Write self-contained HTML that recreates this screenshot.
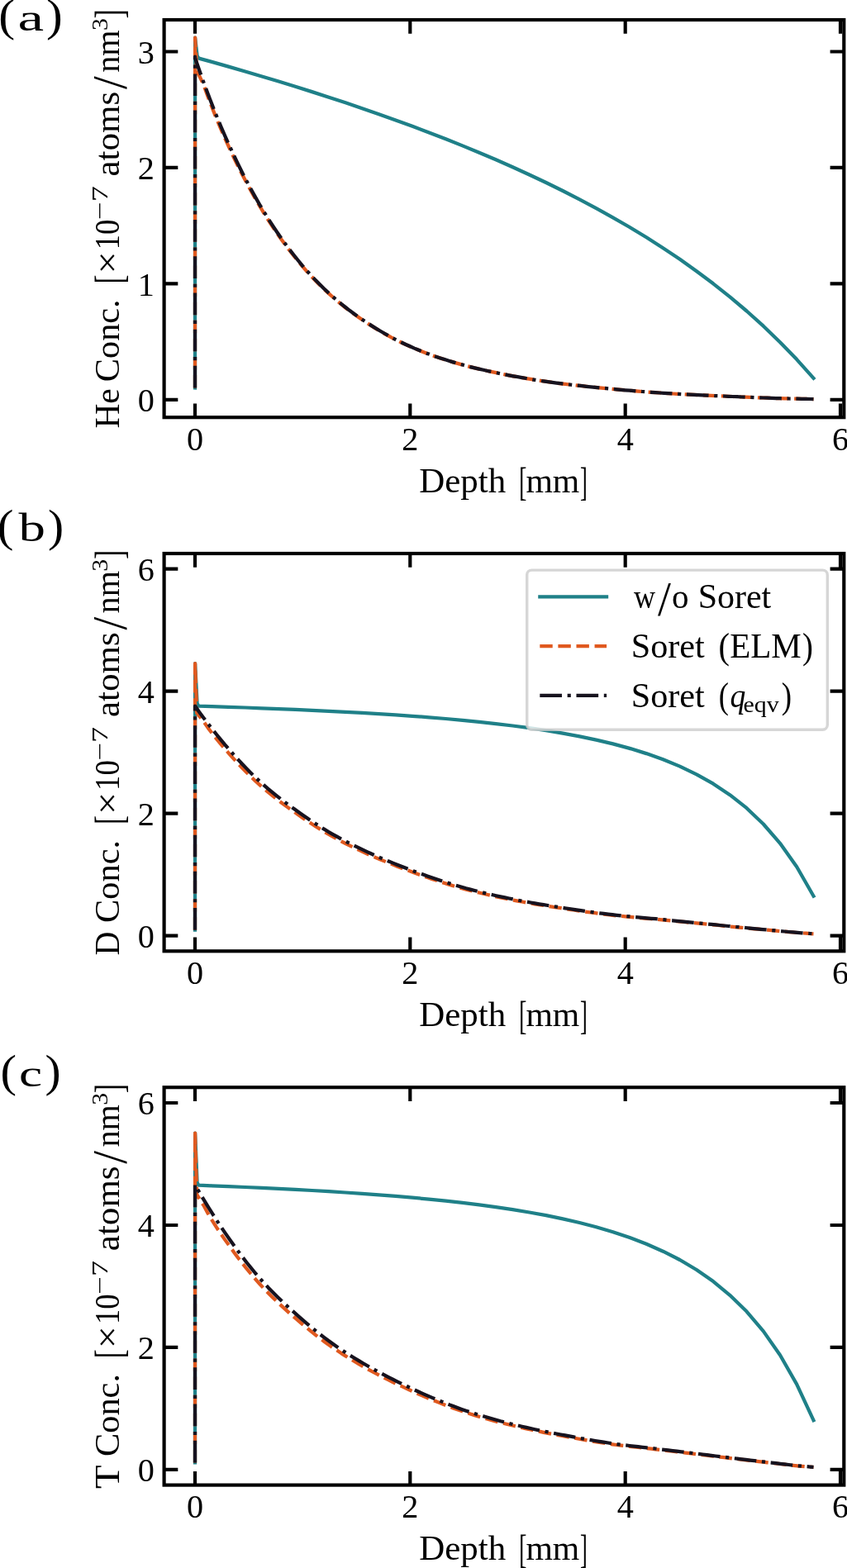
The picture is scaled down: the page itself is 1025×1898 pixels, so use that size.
<!DOCTYPE html>
<html lang="en">
<head>
<meta charset="utf-8">
<title>Concentration profiles</title>
<style>
html,body{margin:0;padding:0;background:#fff;}
svg{display:block;}
</style>
</head>
<body>
<svg width="1025" height="1898" viewBox="0 0 1025 1898" font-family='"Liberation Serif", "DejaVu Serif", serif' fill="#000">
<rect width="1025" height="1898" fill="#fff"/>
<g id="panel-a">
<g fill="none" stroke-width="4.25" stroke-linejoin="round">
<polyline points="236.0,469.5 236.1,45.7 238.6,67.6 240.7,70.6 256.3,74.9 276.5,80.6 296.7,86.5 316.9,92.5 337.2,98.5 357.4,104.8 377.6,111.1 397.9,117.7 418.1,124.3 438.3,131.2 458.5,138.2 478.8,145.4 499.0,152.8 519.2,160.4 539.5,168.3 559.7,176.4 579.9,184.7 600.1,193.3 620.4,202.2 640.6,211.5 660.8,221.0 681.1,231.0 701.3,241.3 721.5,252.1 741.7,263.3 762.0,275.0 782.2,287.3 802.4,300.3 822.7,313.8 842.9,328.2 863.1,343.3 883.3,359.4 903.6,376.5 923.8,394.7 944.0,414.2 964.2,435.1 984.5,457.8" stroke="#1f8088" stroke-linecap="square"/>
<polyline points="236.0,469.5 236.1,45.7 238.2,85.3 246.4,102.8 251.6,117.1 256.8,130.6 262.0,143.6 267.2,156.0 272.4,167.9 277.7,179.4 282.9,190.5 288.1,201.2 293.3,211.5 298.5,221.4 303.7,231.0 308.9,240.3 314.1,249.2 319.3,257.8 324.5,266.1 329.7,274.1 334.9,281.8 340.1,289.3 345.3,296.4 350.5,303.3 355.8,310.0 361.0,316.4 366.2,322.6 371.4,328.6 376.6,334.3 381.8,339.7 387.0,345.0 392.2,350.0 397.4,354.9 402.6,359.5 407.8,364.0 413.0,368.3 418.2,372.5 423.4,376.5 428.7,380.3 433.9,384.0 439.1,387.6 444.3,391.0 449.5,394.4 454.7,397.6 459.9,400.8 465.1,403.8 470.3,406.7 475.5,409.5 480.7,412.1 485.9,414.7 491.1,417.1 496.3,419.5 501.5,421.7 506.8,423.9 512.0,426.0 517.2,428.0 522.4,429.9 527.6,431.8 532.8,433.5 538.0,435.2 543.2,436.9 548.4,438.4 553.6,439.9 558.8,441.4 564.0,442.8 569.2,444.1 574.4,445.4 579.6,446.6 584.9,447.8 590.1,449.0 595.3,450.1 600.5,451.2 605.7,452.3 610.9,453.3 616.1,454.3 621.3,455.3 626.5,456.2 631.7,457.2 636.9,458.1 642.1,458.9 647.3,459.8 652.5,460.6 657.8,461.4 663.0,462.1 668.2,462.9 673.4,463.6 678.6,464.3 683.8,464.9 689.0,465.5 694.2,466.1 699.4,466.7 704.6,467.2 709.8,467.8 715.0,468.3 720.2,468.8 725.4,469.3 730.6,469.8 735.9,470.3 741.1,470.8 746.3,471.3 751.5,471.8 756.7,472.3 761.9,472.7 767.1,473.1 772.3,473.6 777.5,474.0 782.7,474.4 787.9,474.8 793.1,475.1 798.3,475.5 803.5,475.9 808.7,476.2 814.0,476.5 819.2,476.8 824.4,477.1 829.6,477.3 834.8,477.6 840.0,477.9 845.2,478.1 850.4,478.4 855.6,478.6 860.8,478.8 866.0,479.1 871.2,479.3 876.4,479.5 881.6,479.8 886.8,480.0 892.1,480.2 897.3,480.5 902.5,480.7 907.7,480.9 912.9,481.1 918.1,481.3 923.3,481.5 928.5,481.7 933.7,481.9 938.9,482.1 944.1,482.2 949.3,482.4 954.5,482.5 959.7,482.6 965.0,482.7 970.2,482.8 975.4,482.9 980.6,483.0 984.5,483.1" stroke="#e0591f" stroke-dasharray="15.42,6.67"/>
<polyline points="236.0,469.5 236.0,68.5 236.0,70.0 241.2,85.0 246.4,99.6 251.6,113.6 256.8,127.1 262.0,140.2 267.2,152.8 272.4,164.9 277.7,176.6 282.9,187.9 288.1,198.7 293.3,209.2 298.5,219.3 303.7,229.0 308.9,238.4 314.1,247.5 319.3,256.2 324.5,264.6 329.7,272.7 334.9,280.5 340.1,288.0 345.3,295.3 350.5,302.3 355.8,309.0 361.0,315.5 366.2,321.8 371.4,327.8 376.6,333.5 381.8,339.1 387.0,344.3 392.2,349.4 397.4,354.3 402.6,359.0 407.8,363.5 413.0,367.9 418.2,372.0 423.4,376.1 428.7,379.9 433.9,383.7 439.1,387.3 444.3,390.7 449.5,394.1 454.7,397.4 459.9,400.5 465.1,403.5 470.3,406.5 475.5,409.3 480.7,412.0 485.9,414.5 491.1,417.0 496.3,419.3 501.5,421.6 506.8,423.8 512.0,425.9 517.2,427.9 522.4,429.8 527.6,431.7 532.8,433.4 538.0,435.1 543.2,436.8 548.4,438.4 553.6,439.9 558.8,441.3 564.0,442.7 569.2,444.1 574.4,445.4 579.6,446.6 584.9,447.8 590.1,449.0 595.3,450.1 600.5,451.2 605.7,452.2 610.9,453.3 616.1,454.3 621.3,455.3 626.5,456.2 631.7,457.1 636.9,458.0 642.1,458.9 647.3,459.8 652.5,460.6 657.8,461.4 663.0,462.1 668.2,462.9 673.4,463.6 678.6,464.2 683.8,464.9 689.0,465.5 694.2,466.1 699.4,466.7 704.6,467.2 709.8,467.8 715.0,468.3 720.2,468.8 725.4,469.3 730.6,469.8 735.9,470.3 741.1,470.8 746.3,471.3 751.5,471.8 756.7,472.3 761.9,472.7 767.1,473.1 772.3,473.6 777.5,474.0 782.7,474.4 787.9,474.8 793.1,475.1 798.3,475.5 803.5,475.9 808.7,476.2 814.0,476.5 819.2,476.8 824.4,477.1 829.6,477.3 834.8,477.6 840.0,477.9 845.2,478.1 850.4,478.3 855.6,478.6 860.8,478.8 866.0,479.1 871.2,479.3 876.4,479.5 881.6,479.8 886.8,480.0 892.1,480.2 897.3,480.5 902.5,480.7 907.7,480.9 912.9,481.1 918.1,481.3 923.3,481.5 928.5,481.7 933.7,481.9 938.9,482.1 944.1,482.2 949.3,482.4 954.5,482.5 959.7,482.6 965.0,482.7 970.2,482.8 975.4,482.9 980.6,483.0 984.5,483.1" stroke="#17131f" stroke-dasharray="26.67,6.67,4.17,6.67"/>
</g>
<path d="M236.0,505.2v-16.7M236.0,24.0v16.7M496.3,505.2v-16.7M496.3,24.0v16.7M756.7,505.2v-16.7M756.7,24.0v16.7M1017.0,505.2v-16.7M1017.0,24.0v16.7M198.6,483.8h16.7M1021.3,483.8h-16.7M198.6,343.4h16.7M1021.3,343.4h-16.7M198.6,202.9h16.7M1021.3,202.9h-16.7M198.6,62.5h16.7M1021.3,62.5h-16.7" stroke="#000" stroke-width="4.17" fill="none"/>
<rect x="198.6" y="24.0" width="822.7" height="481.2" fill="none" stroke="#000" stroke-width="4.17"/>
<text x="236.0" y="545.0" font-size="40.2" text-anchor="middle">0</text>
<text x="496.3" y="545.0" font-size="40.2" text-anchor="middle">2</text>
<text x="756.7" y="545.0" font-size="40.2" text-anchor="middle">4</text>
<text x="1017.0" y="545.0" font-size="40.2" text-anchor="middle">6</text>
<text x="186.8" y="498.1" font-size="40.2" text-anchor="end">0</text>
<text x="186.8" y="357.7" font-size="40.2" text-anchor="end">1</text>
<text x="186.8" y="217.2" font-size="40.2" text-anchor="end">2</text>
<text x="186.8" y="76.8" font-size="40.2" text-anchor="end">3</text>
</g>
<g id="panel-b">
<g fill="none" stroke-width="4.25" stroke-linejoin="round">
<polyline points="236.0,1125.7 236.1,803.0 238.6,851.7 240.4,854.7 256.3,855.2 276.5,855.9 296.7,856.5 316.9,857.3 337.2,858.1 357.4,858.9 377.6,859.8 397.9,860.8 418.1,861.8 438.3,862.9 458.5,864.1 478.8,865.4 499.0,866.8 519.2,868.3 539.5,870.0 559.7,871.8 579.9,873.8 600.1,876.1 620.4,878.5 640.6,881.2 660.8,884.2 681.1,887.6 701.3,891.3 721.5,895.6 741.7,900.4 762.0,905.9 782.2,912.1 802.4,919.3 822.7,927.6 842.9,937.4 863.1,948.7 883.3,962.2 903.6,978.2 923.8,997.5 944.0,1020.8 964.2,1049.3 984.5,1084.6" stroke="#1f8088" stroke-linecap="square"/>
<polyline points="236.0,1125.7 236.1,803.0 238.2,862.9 246.4,873.4 251.6,880.9 256.8,887.8 262.0,894.4 267.2,900.7 272.4,906.8 277.7,912.8 282.9,918.6 288.1,924.3 293.3,929.8 298.5,935.1 303.7,940.2 308.9,945.2 314.1,949.9 319.3,954.5 324.5,958.9 329.7,963.1 334.9,967.2 340.1,971.2 345.3,975.1 350.5,978.9 355.8,982.6 361.0,986.3 366.2,989.9 371.4,993.4 376.6,996.8 381.8,1000.2 387.0,1003.4 392.2,1006.6 397.4,1009.7 402.6,1012.6 407.8,1015.5 413.0,1018.3 418.2,1021.0 423.4,1023.6 428.7,1026.2 433.9,1028.7 439.1,1031.1 444.3,1033.5 449.5,1035.8 454.7,1038.1 459.9,1040.3 465.1,1042.4 470.3,1044.6 475.5,1046.6 480.7,1048.7 485.9,1050.7 491.1,1052.7 496.3,1054.6 501.5,1056.6 506.8,1058.5 512.0,1060.3 517.2,1062.1 522.4,1063.9 527.6,1065.6 532.8,1067.3 538.0,1069.0 543.2,1070.6 548.4,1072.2 553.6,1073.7 558.8,1075.2 564.0,1076.6 569.2,1077.9 574.4,1079.3 579.6,1080.5 584.9,1081.8 590.1,1083.0 595.3,1084.2 600.5,1085.3 605.7,1086.4 610.9,1087.5 616.1,1088.5 621.3,1089.6 626.5,1090.6 631.7,1091.5 636.9,1092.5 642.1,1093.4 647.3,1094.3 652.5,1095.2 657.8,1096.0 663.0,1096.9 668.2,1097.7 673.4,1098.5 678.6,1099.2 683.8,1100.0 689.0,1100.8 694.2,1101.5 699.4,1102.3 704.6,1103.0 709.8,1103.8 715.0,1104.5 720.2,1105.2 725.4,1105.9 730.6,1106.6 735.9,1107.2 741.1,1107.8 746.3,1108.4 751.5,1108.9 756.7,1109.4 761.9,1109.9 767.1,1110.4 772.3,1110.9 777.5,1111.3 782.7,1111.8 787.9,1112.2 793.1,1112.7 798.3,1113.2 803.5,1113.7 808.7,1114.2 814.0,1114.7 819.2,1115.2 824.4,1115.7 829.6,1116.2 834.8,1116.7 840.0,1117.2 845.2,1117.7 850.4,1118.2 855.6,1118.7 860.8,1119.2 866.0,1119.7 871.2,1120.2 876.4,1120.8 881.6,1121.3 886.8,1121.8 892.1,1122.3 897.3,1122.8 902.5,1123.3 907.7,1123.8 912.9,1124.3 918.1,1124.7 923.3,1125.2 928.5,1125.7 933.7,1126.2 938.9,1126.6 944.1,1127.1 949.3,1127.6 954.5,1128.1 959.7,1128.5 965.0,1129.0 970.2,1129.4 975.4,1129.7 980.6,1130.1 984.5,1130.3" stroke="#e0591f" stroke-dasharray="15.42,6.67"/>
<polyline points="236.0,1125.7 236.0,854.6 241.2,861.9 246.4,868.9 251.6,875.8 256.8,882.5 262.0,889.0 267.2,895.4 272.4,901.6 277.7,907.6 282.9,913.6 288.1,919.4 293.3,925.0 298.5,930.4 303.7,935.7 308.9,940.8 314.1,945.6 319.3,950.3 324.5,954.8 329.7,959.1 334.9,963.3 340.1,967.4 345.3,971.4 350.5,975.3 355.8,979.1 361.0,982.8 366.2,986.5 371.4,990.1 376.6,993.6 381.8,997.0 387.0,1000.4 392.2,1003.6 397.4,1006.8 402.6,1009.8 407.8,1012.7 413.0,1015.6 418.2,1018.3 423.4,1021.0 428.7,1023.6 433.9,1026.2 439.1,1028.7 444.3,1031.1 449.5,1033.5 454.7,1035.9 459.9,1038.1 465.1,1040.3 470.3,1042.5 475.5,1044.6 480.7,1046.7 485.9,1048.7 491.1,1050.8 496.3,1052.8 501.5,1054.8 506.8,1056.7 512.0,1058.6 517.2,1060.5 522.4,1062.3 527.6,1064.0 532.8,1065.8 538.0,1067.5 543.2,1069.1 548.4,1070.7 553.6,1072.3 558.8,1073.8 564.0,1075.3 569.2,1076.6 574.4,1078.0 579.6,1079.3 584.9,1080.6 590.1,1081.8 595.3,1083.0 600.5,1084.2 605.7,1085.3 610.9,1086.4 616.1,1087.5 621.3,1088.5 626.5,1089.6 631.7,1090.6 636.9,1091.5 642.1,1092.5 647.3,1093.4 652.5,1094.3 657.8,1095.2 663.0,1096.0 668.2,1096.8 673.4,1097.7 678.6,1098.5 683.8,1099.3 689.0,1100.0 694.2,1100.8 699.4,1101.6 704.6,1102.3 709.8,1103.1 715.0,1103.8 720.2,1104.6 725.4,1105.3 730.6,1105.9 735.9,1106.6 741.1,1107.2 746.3,1107.8 751.5,1108.3 756.7,1108.9 761.9,1109.4 767.1,1109.9 772.3,1110.3 777.5,1110.8 782.7,1111.3 787.9,1111.8 793.1,1112.2 798.3,1112.7 803.5,1113.2 808.7,1113.8 814.0,1114.3 819.2,1114.8 824.4,1115.3 829.6,1115.8 834.8,1116.3 840.0,1116.8 845.2,1117.4 850.4,1117.9 855.6,1118.4 860.8,1118.9 866.0,1119.4 871.2,1120.0 876.4,1120.5 881.6,1121.0 886.8,1121.5 892.1,1122.0 897.3,1122.5 902.5,1123.0 907.7,1123.6 912.9,1124.1 918.1,1124.6 923.3,1125.1 928.5,1125.5 933.7,1126.0 938.9,1126.5 944.1,1127.0 949.3,1127.5 954.5,1128.0 959.7,1128.4 965.0,1128.9 970.2,1129.3 975.4,1129.7 980.6,1130.0 984.5,1130.3" stroke="#17131f" stroke-dasharray="26.67,6.67,4.17,6.67"/>
</g>
<path d="M236.0,1151.3v-16.7M236.0,670.0v16.7M496.3,1151.3v-16.7M496.3,670.0v16.7M756.7,1151.3v-16.7M756.7,670.0v16.7M1017.0,1151.3v-16.7M1017.0,670.0v16.7M198.6,1132.7h16.7M1021.3,1132.7h-16.7M198.6,984.7h16.7M1021.3,984.7h-16.7M198.6,836.7h16.7M1021.3,836.7h-16.7M198.6,688.7h16.7M1021.3,688.7h-16.7" stroke="#000" stroke-width="4.17" fill="none"/>
<rect x="198.6" y="670.0" width="822.7" height="481.3" fill="none" stroke="#000" stroke-width="4.17"/>
<text x="236.0" y="1191.1" font-size="40.2" text-anchor="middle">0</text>
<text x="496.3" y="1191.1" font-size="40.2" text-anchor="middle">2</text>
<text x="756.7" y="1191.1" font-size="40.2" text-anchor="middle">4</text>
<text x="1017.0" y="1191.1" font-size="40.2" text-anchor="middle">6</text>
<text x="186.8" y="1147.0" font-size="40.2" text-anchor="end">0</text>
<text x="186.8" y="999.0" font-size="40.2" text-anchor="end">2</text>
<text x="186.8" y="851.0" font-size="40.2" text-anchor="end">4</text>
<text x="186.8" y="703.0" font-size="40.2" text-anchor="end">6</text>
</g>
<g id="panel-c">
<g fill="none" stroke-width="4.25" stroke-linejoin="round">
<polyline points="236.0,1770.4 236.1,1371.6 238.6,1431.7 240.4,1434.7 256.3,1435.3 276.5,1436.1 296.7,1437.0 316.9,1437.9 337.2,1438.9 357.4,1439.9 377.6,1441.0 397.9,1442.2 418.1,1443.5 438.3,1444.8 458.5,1446.3 478.8,1447.9 499.0,1449.7 519.2,1451.6 539.5,1453.6 559.7,1455.9 579.9,1458.4 600.1,1461.1 620.4,1464.1 640.6,1467.5 660.8,1471.2 681.1,1475.4 701.3,1480.0 721.5,1485.3 741.7,1491.2 762.0,1498.0 782.2,1505.8 802.4,1514.7 822.7,1525.0 842.9,1537.0 863.1,1551.1 883.3,1567.8 903.6,1587.6 923.8,1611.4 944.0,1640.3 964.2,1675.6 984.5,1719.3" stroke="#1f8088" stroke-linecap="square"/>
<polyline points="236.0,1770.4 236.1,1371.6 238.2,1446.0 246.4,1459.1 251.6,1468.7 256.8,1477.4 262.0,1485.6 267.2,1493.4 272.4,1500.9 277.7,1508.2 282.9,1515.4 288.1,1522.4 293.3,1529.1 298.5,1535.7 303.7,1542.0 308.9,1548.1 314.1,1554.0 319.3,1559.6 324.5,1565.0 329.7,1570.2 334.9,1575.2 340.1,1580.1 345.3,1584.9 350.5,1589.6 355.8,1594.2 361.0,1598.7 366.2,1603.1 371.4,1607.4 376.6,1611.7 381.8,1615.8 387.0,1619.8 392.2,1623.7 397.4,1627.5 402.6,1631.1 407.8,1634.6 413.0,1638.1 418.2,1641.4 423.4,1644.6 428.7,1647.8 433.9,1650.8 439.1,1653.8 444.3,1656.8 449.5,1659.7 454.7,1662.4 459.9,1665.2 465.1,1667.8 470.3,1670.4 475.5,1673.0 480.7,1675.5 485.9,1677.9 491.1,1680.4 496.3,1682.8 501.5,1685.2 506.8,1687.5 512.0,1689.8 517.2,1692.0 522.4,1694.2 527.6,1696.3 532.8,1698.4 538.0,1700.5 543.2,1702.5 548.4,1704.4 553.6,1706.3 558.8,1708.1 564.0,1709.8 569.2,1711.5 574.4,1713.1 579.6,1714.7 584.9,1716.2 590.1,1717.7 595.3,1719.2 600.5,1720.6 605.7,1721.9 610.9,1723.2 616.1,1724.5 621.3,1725.8 626.5,1727.0 631.7,1728.2 636.9,1729.4 642.1,1730.5 647.3,1731.6 652.5,1732.7 657.8,1733.8 663.0,1734.8 668.2,1735.8 673.4,1736.8 678.6,1737.7 683.8,1738.7 689.0,1739.6 694.2,1740.5 699.4,1741.5 704.6,1742.4 709.8,1743.3 715.0,1744.2 720.2,1745.1 725.4,1745.9 730.6,1746.7 735.9,1747.5 741.1,1748.3 746.3,1749.0 751.5,1749.6 756.7,1750.2 761.9,1750.9 767.1,1751.4 772.3,1752.0 777.5,1752.6 782.7,1753.2 787.9,1753.7 793.1,1754.3 798.3,1754.9 803.5,1755.5 808.7,1756.1 814.0,1756.7 819.2,1757.4 824.4,1758.0 829.6,1758.6 834.8,1759.2 840.0,1759.8 845.2,1760.4 850.4,1761.1 855.6,1761.7 860.8,1762.3 866.0,1762.9 871.2,1763.6 876.4,1764.2 881.6,1764.8 886.8,1765.4 892.1,1766.1 897.3,1766.7 902.5,1767.3 907.7,1767.9 912.9,1768.5 918.1,1769.1 923.3,1769.7 928.5,1770.3 933.7,1770.9 938.9,1771.4 944.1,1772.0 949.3,1772.6 954.5,1773.2 959.7,1773.8 965.0,1774.3 970.2,1774.8 975.4,1775.3 980.6,1775.7 984.5,1776.0" stroke="#e0591f" stroke-dasharray="15.42,6.67"/>
<polyline points="236.0,1770.4 236.0,1434.2 241.2,1443.1 246.4,1451.9 251.6,1460.4 256.8,1468.7 262.0,1476.8 267.2,1484.7 272.4,1492.4 277.7,1499.9 282.9,1507.3 288.1,1514.4 293.3,1521.4 298.5,1528.2 303.7,1534.7 308.9,1541.0 314.1,1547.0 319.3,1552.8 324.5,1558.4 329.7,1563.7 334.9,1568.9 340.1,1574.0 345.3,1578.9 350.5,1583.7 355.8,1588.4 361.0,1593.1 366.2,1597.7 371.4,1602.1 376.6,1606.5 381.8,1610.7 387.0,1614.9 392.2,1618.9 397.4,1622.8 402.6,1626.5 407.8,1630.2 413.0,1633.7 418.2,1637.1 423.4,1640.5 428.7,1643.7 433.9,1646.9 439.1,1650.0 444.3,1653.0 449.5,1656.0 454.7,1658.8 459.9,1661.6 465.1,1664.4 470.3,1667.1 475.5,1669.7 480.7,1672.3 485.9,1674.8 491.1,1677.3 496.3,1679.8 501.5,1682.3 506.8,1684.7 512.0,1687.1 517.2,1689.4 522.4,1691.6 527.6,1693.8 532.8,1695.9 538.0,1698.0 543.2,1700.1 548.4,1702.1 553.6,1704.0 558.8,1705.9 564.0,1707.7 569.2,1709.4 574.4,1711.1 579.6,1712.7 584.9,1714.3 590.1,1715.8 595.3,1717.3 600.5,1718.7 605.7,1720.2 610.9,1721.5 616.1,1722.9 621.3,1724.2 626.5,1725.4 631.7,1726.7 636.9,1727.9 642.1,1729.0 647.3,1730.2 652.5,1731.3 657.8,1732.4 663.0,1733.4 668.2,1734.4 673.4,1735.5 678.6,1736.5 683.8,1737.4 689.0,1738.4 694.2,1739.4 699.4,1740.3 704.6,1741.3 709.8,1742.2 715.0,1743.1 720.2,1744.0 725.4,1744.9 730.6,1745.7 735.9,1746.5 741.1,1747.3 746.3,1748.0 751.5,1748.7 756.7,1749.4 761.9,1750.0 767.1,1750.6 772.3,1751.2 777.5,1751.8 782.7,1752.4 787.9,1753.0 793.1,1753.5 798.3,1754.2 803.5,1754.8 808.7,1755.4 814.0,1756.1 819.2,1756.7 824.4,1757.3 829.6,1758.0 834.8,1758.6 840.0,1759.2 845.2,1759.9 850.4,1760.5 855.6,1761.2 860.8,1761.8 866.0,1762.5 871.2,1763.1 876.4,1763.7 881.6,1764.4 886.8,1765.0 892.1,1765.7 897.3,1766.3 902.5,1766.9 907.7,1767.6 912.9,1768.2 918.1,1768.8 923.3,1769.4 928.5,1770.0 933.7,1770.6 938.9,1771.2 944.1,1771.8 949.3,1772.4 954.5,1773.0 959.7,1773.6 965.0,1774.2 970.2,1774.7 975.4,1775.1 980.6,1775.6 984.5,1775.9" stroke="#17131f" stroke-dasharray="26.67,6.67,4.17,6.67"/>
</g>
<path d="M236.0,1797.6v-16.7M236.0,1316.2v16.7M496.3,1797.6v-16.7M496.3,1316.2v16.7M756.7,1797.6v-16.7M756.7,1316.2v16.7M1017.0,1797.6v-16.7M1017.0,1316.2v16.7M198.6,1778.9h16.7M1021.3,1778.9h-16.7M198.6,1630.9h16.7M1021.3,1630.9h-16.7M198.6,1483.0h16.7M1021.3,1483.0h-16.7M198.6,1335.0h16.7M1021.3,1335.0h-16.7" stroke="#000" stroke-width="4.17" fill="none"/>
<rect x="198.6" y="1316.2" width="822.7" height="481.4" fill="none" stroke="#000" stroke-width="4.17"/>
<text x="236.0" y="1837.4" font-size="40.2" text-anchor="middle">0</text>
<text x="496.3" y="1837.4" font-size="40.2" text-anchor="middle">2</text>
<text x="756.7" y="1837.4" font-size="40.2" text-anchor="middle">4</text>
<text x="1017.0" y="1837.4" font-size="40.2" text-anchor="middle">6</text>
<text x="186.8" y="1793.2" font-size="40.2" text-anchor="end">0</text>
<text x="186.8" y="1645.2" font-size="40.2" text-anchor="end">2</text>
<text x="186.8" y="1497.3" font-size="40.2" text-anchor="end">4</text>
<text x="186.8" y="1349.3" font-size="40.2" text-anchor="end">6</text>
</g>
<text y="595.8" font-size="41.5"><tspan x="507.3" textLength="104.9" lengthAdjust="spacingAndGlyphs" y="595.8" font-size="41.5">Depth</tspan> <tspan x="627.9" textLength="9.4" lengthAdjust="spacingAndGlyphs" y="599.0" font-size="48.8">[</tspan><tspan x="636.4" textLength="64.9" lengthAdjust="spacingAndGlyphs" y="595.8" font-size="41.5">mm</tspan><tspan x="701.9" textLength="8.8" lengthAdjust="spacingAndGlyphs" y="599.0" font-size="48.8">]</tspan></text>
<text y="1241.9" font-size="41.5"><tspan x="507.3" textLength="104.9" lengthAdjust="spacingAndGlyphs" y="1241.9" font-size="41.5">Depth</tspan> <tspan x="627.9" textLength="9.4" lengthAdjust="spacingAndGlyphs" y="1245.1" font-size="48.8">[</tspan><tspan x="636.4" textLength="64.9" lengthAdjust="spacingAndGlyphs" y="1241.9" font-size="41.5">mm</tspan><tspan x="701.9" textLength="8.8" lengthAdjust="spacingAndGlyphs" y="1245.1" font-size="48.8">]</tspan></text>
<text y="1888.2" font-size="41.5"><tspan x="507.3" textLength="104.9" lengthAdjust="spacingAndGlyphs" y="1888.2" font-size="41.5">Depth</tspan> <tspan x="627.9" textLength="9.4" lengthAdjust="spacingAndGlyphs" y="1891.4" font-size="48.8">[</tspan><tspan x="636.4" textLength="64.9" lengthAdjust="spacingAndGlyphs" y="1888.2" font-size="41.5">mm</tspan><tspan x="701.9" textLength="8.8" lengthAdjust="spacingAndGlyphs" y="1891.4" font-size="48.8">]</tspan></text>
<text transform="translate(144.3,0) rotate(-90)" font-size="41.5"><tspan x="-518.6" textLength="48.2" lengthAdjust="spacingAndGlyphs" y="0.0" font-size="41.5">He</tspan> <tspan x="-462.3" textLength="100.0" lengthAdjust="spacingAndGlyphs" y="0.0" font-size="41.5">Conc.</tspan> <tspan x="-343.5" textLength="10.8" lengthAdjust="spacingAndGlyphs" y="3.2" font-size="48.8">[</tspan><tspan x="-331.5" textLength="27.2" lengthAdjust="spacingAndGlyphs" y="0.0" font-size="41.5">×</tspan><tspan x="-302.3" textLength="36.6" lengthAdjust="spacingAndGlyphs" y="0.0" font-size="41.5">10</tspan><tspan x="-266.0" textLength="40.9" lengthAdjust="spacingAndGlyphs" y="-14.0" font-size="27.5">−7</tspan> <tspan x="-213.5" textLength="102.8" lengthAdjust="spacingAndGlyphs" y="0.0" font-size="41.5">atoms</tspan><tspan x="-108.0" textLength="15.7" lengthAdjust="spacingAndGlyphs" y="8.5" font-size="58.5">/</tspan><tspan x="-87.8" textLength="51.4" lengthAdjust="spacingAndGlyphs" y="0.0" font-size="41.5">nm</tspan><tspan x="-37.1" textLength="14.9" lengthAdjust="spacingAndGlyphs" y="-14.0" font-size="27.5">3</tspan><tspan x="-22.5" textLength="11.2" lengthAdjust="spacingAndGlyphs" y="3.2" font-size="48.8">]</tspan></text>
<text transform="translate(144.3,0) rotate(-90)" font-size="41.5"><tspan x="-1156.5" textLength="29.0" lengthAdjust="spacingAndGlyphs" y="0.0" font-size="41.5">D</tspan> <tspan x="-1116.9" textLength="100.0" lengthAdjust="spacingAndGlyphs" y="0.0" font-size="41.5">Conc.</tspan> <tspan x="-998.1" textLength="10.8" lengthAdjust="spacingAndGlyphs" y="3.2" font-size="48.8">[</tspan><tspan x="-986.1" textLength="27.2" lengthAdjust="spacingAndGlyphs" y="0.0" font-size="41.5">×</tspan><tspan x="-956.9" textLength="36.6" lengthAdjust="spacingAndGlyphs" y="0.0" font-size="41.5">10</tspan><tspan x="-920.6" textLength="40.9" lengthAdjust="spacingAndGlyphs" y="-14.0" font-size="27.5">−7</tspan> <tspan x="-868.1" textLength="102.8" lengthAdjust="spacingAndGlyphs" y="0.0" font-size="41.5">atoms</tspan><tspan x="-762.6" textLength="15.7" lengthAdjust="spacingAndGlyphs" y="8.5" font-size="58.5">/</tspan><tspan x="-742.4" textLength="51.4" lengthAdjust="spacingAndGlyphs" y="0.0" font-size="41.5">nm</tspan><tspan x="-691.7" textLength="14.9" lengthAdjust="spacingAndGlyphs" y="-14.0" font-size="27.5">3</tspan><tspan x="-677.1" textLength="11.2" lengthAdjust="spacingAndGlyphs" y="3.2" font-size="48.8">]</tspan></text>
<text transform="translate(144.3,0) rotate(-90)" font-size="41.5"><tspan x="-1802.1" textLength="27.8" lengthAdjust="spacingAndGlyphs" y="0.0" font-size="41.5">T</tspan> <tspan x="-1763.0" textLength="100.0" lengthAdjust="spacingAndGlyphs" y="0.0" font-size="41.5">Conc.</tspan> <tspan x="-1644.2" textLength="10.8" lengthAdjust="spacingAndGlyphs" y="3.2" font-size="48.8">[</tspan><tspan x="-1632.2" textLength="27.2" lengthAdjust="spacingAndGlyphs" y="0.0" font-size="41.5">×</tspan><tspan x="-1603.0" textLength="36.6" lengthAdjust="spacingAndGlyphs" y="0.0" font-size="41.5">10</tspan><tspan x="-1566.7" textLength="40.9" lengthAdjust="spacingAndGlyphs" y="-14.0" font-size="27.5">−7</tspan> <tspan x="-1514.2" textLength="102.8" lengthAdjust="spacingAndGlyphs" y="0.0" font-size="41.5">atoms</tspan><tspan x="-1408.7" textLength="15.7" lengthAdjust="spacingAndGlyphs" y="8.5" font-size="58.5">/</tspan><tspan x="-1388.5" textLength="51.4" lengthAdjust="spacingAndGlyphs" y="0.0" font-size="41.5">nm</tspan><tspan x="-1337.8" textLength="14.9" lengthAdjust="spacingAndGlyphs" y="-14.0" font-size="27.5">3</tspan><tspan x="-1323.2" textLength="11.2" lengthAdjust="spacingAndGlyphs" y="3.2" font-size="48.8">]</tspan></text>
<text y="36.6" font-size="54.7"><tspan x="-1.7" textLength="19.9" lengthAdjust="spacingAndGlyphs" font-size="54.7">(</tspan><tspan x="21.6" textLength="31.6" lengthAdjust="spacingAndGlyphs" font-size="46">a</tspan><tspan x="56.1" textLength="19.7" lengthAdjust="spacingAndGlyphs" font-size="54.7">)</tspan></text>
<text y="655.4" font-size="54.7"><tspan x="-3.3" textLength="19.7" lengthAdjust="spacingAndGlyphs" font-size="54.7">(</tspan><tspan x="22.4" textLength="32.4" lengthAdjust="spacingAndGlyphs" font-size="49">b</tspan><tspan x="58.0" textLength="19.1" lengthAdjust="spacingAndGlyphs" font-size="54.7">)</tspan></text>
<text y="1315.2" font-size="54.7"><tspan x="0.5" textLength="19.5" lengthAdjust="spacingAndGlyphs" font-size="54.7">(</tspan><tspan x="23.0" textLength="28.1" lengthAdjust="spacingAndGlyphs" font-size="46">c</tspan><tspan x="54.5" textLength="19.1" lengthAdjust="spacingAndGlyphs" font-size="54.7">)</tspan></text>
<g id="legend">
<rect x="637.7" y="690.1" width="363.6" height="193.1" rx="5.8" ry="5.8" fill="#fff" fill-opacity="0.8" stroke="#cccccc" stroke-opacity="0.8" stroke-width="3.4"/>
<g fill="none" stroke-width="4.17">
<path d="M653.3,722.3H734.1" stroke="#1f8088" stroke-linecap="square"/>
<path d="M653.3,782.2H734.1" stroke="#e0591f" stroke-dasharray="15.42,6.67"/>
<path d="M653.3,841.8H734.1" stroke="#17131f" stroke-dasharray="26.67,6.67,4.17,6.67"/>
</g>
<text y="736.2" font-size="41.5"><tspan x="767.1" textLength="26.1" lengthAdjust="spacingAndGlyphs" y="736.2" font-size="41.5">w</tspan><tspan x="795.9" textLength="15.9" lengthAdjust="spacingAndGlyphs" y="744.7" font-size="58.5">/</tspan><tspan x="812.9" textLength="20.5" lengthAdjust="spacingAndGlyphs" y="736.2" font-size="41.5">o</tspan> <tspan x="844.7" textLength="88.6" lengthAdjust="spacingAndGlyphs" y="736.2" font-size="41.5">Soret</tspan></text>
<text y="796.0" font-size="41.5"><tspan x="763.7" textLength="89.1" lengthAdjust="spacingAndGlyphs" y="796.0" font-size="41.5">Soret</tspan> <tspan x="869.6" textLength="13.5" lengthAdjust="spacingAndGlyphs" y="796.6" font-size="45">(</tspan><tspan x="883.3" textLength="86.5" lengthAdjust="spacingAndGlyphs" y="796.0" font-size="41.5">ELM</tspan><tspan x="970.9" textLength="12.9" lengthAdjust="spacingAndGlyphs" y="796.6" font-size="45">)</tspan></text>
<text y="856.2" font-size="41.5"><tspan x="763.7" textLength="89.1" lengthAdjust="spacingAndGlyphs" y="856.2" font-size="41.5">Soret</tspan> <tspan x="869.8" textLength="12.2" lengthAdjust="spacingAndGlyphs" y="856.8" font-size="45">(</tspan><tspan x="883.4" textLength="18.8" lengthAdjust="spacingAndGlyphs" y="856.2" font-size="40" font-style="italic">q</tspan><tspan x="899.5" textLength="43.2" lengthAdjust="spacingAndGlyphs" y="862.2" font-size="27.5">eqv</tspan><tspan x="945.8" textLength="12.3" lengthAdjust="spacingAndGlyphs" y="856.8" font-size="45">)</tspan></text>
</g>
</svg>
</body>
</html>
